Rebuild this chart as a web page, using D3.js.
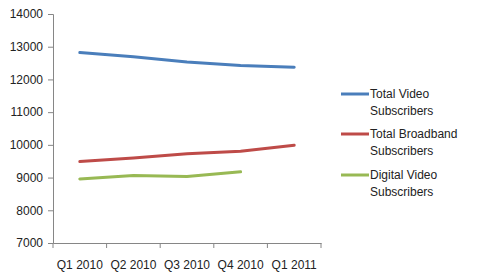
<!DOCTYPE html>
<html>
<head>
<meta charset="utf-8">
<script src="https://cdn.jsdelivr.net/npm/d3@7"></script>
<style>
  body { margin: 0; background: white; }
  text { font-family: "Liberation Sans", Arial, sans-serif; }
</style>
</head>
<body>
<script>
// data
let quarters = ["Q1 2010", "Q2 2010", "Q3 2010", "Q4 2010", "Q1 2011"]
let totalVideo = [12820, 12690, 12530, 12425, 12375]
let totalBroadband = [9490, 9600, 9725, 9805, 9990]
let digitalVideo = [8960, 9060, 9030, 9175]
let seriesNames = ["Total Video Subscribers", "Total Broadband Subscribers", "Digital Video Subscribers"]
let colors = ["#4a7ebb", "#be4b48", "#98b954"]
let yTicks = [7000, 8000, 9000, 10000, 11000, 12000, 13000, 14000]

let svg = d3.select("body")
  .append("svg")
    .attr("width", 478)
    .attr("height", 280)

let x = d3.scaleBand().domain(quarters).range([53, 321])
let y = d3.scaleLinear().domain([7000, 14000]).range([243, 14])

// y axis
let yAxis = svg.append("g")
    .attr("transform", "translate(53,0)")
    .call(d3.axisLeft(y).tickValues(yTicks).tickSize(5).tickPadding(5).tickFormat(d3.format("d")))
yAxis.select(".domain").attr("stroke", "#868686")
yAxis.selectAll(".tick line").attr("stroke", "#868686")
yAxis.selectAll(".tick text").attr("fill", "#222").style("font-size", "12px")

// x axis labels
let xAxis = svg.append("g")
    .attr("transform", "translate(0,243)")
    .call(d3.axisBottom(x).tickSize(0).tickPadding(17))
xAxis.select(".domain").attr("stroke", "#868686")
xAxis.selectAll(".tick text").attr("fill", "#222").style("font-size", "12px")

// boundary tick marks between categories
let edges = quarters.map(q => x(q)).concat([x(quarters[quarters.length - 1]) + x.bandwidth()])
svg.append("g")
  .selectAll("line")
  .data(edges)
  .join("line")
    .attr("x1", d => d)
    .attr("x2", d => d)
    .attr("y1", 243)
    .attr("y2", 248)
    .attr("stroke", "#868686")

let line = d3.line()
    .x((d, i) => x(quarters[i]) + x.bandwidth() / 2)
    .y(d => y(d))

let allSeries = [totalVideo, totalBroadband, digitalVideo]
for (let i = 0; i < allSeries.length; i++) {
    svg.append("path")
        .attr("d", line(allSeries[i]))
        .attr("fill", "none")
        .attr("stroke", colors[i])
        .attr("stroke-width", 3)
        .attr("stroke-linecap", "round")
}

// legend
let legendY = [94, 134, 175]
for (let i = 0; i < seriesNames.length; i++) {
    let g = svg.append("g").attr("transform", "translate(341," + legendY[i] + ")")
    g.append("line")
        .attr("x1", 0).attr("x2", 28)
        .attr("stroke", colors[i])
        .attr("stroke-width", 3)
    let words = seriesNames[i].split(" ")
    let first = words.slice(0, -1).join(" ")
    let second = words[words.length - 1]
    g.append("text").attr("x", 29).attr("y", 4).style("font-size", "12px").attr("fill", "#222").text(first)
    g.append("text").attr("x", 29).attr("y", 21).style("font-size", "12px").attr("fill", "#222").text(second)
}
</script>
</body>
</html>
